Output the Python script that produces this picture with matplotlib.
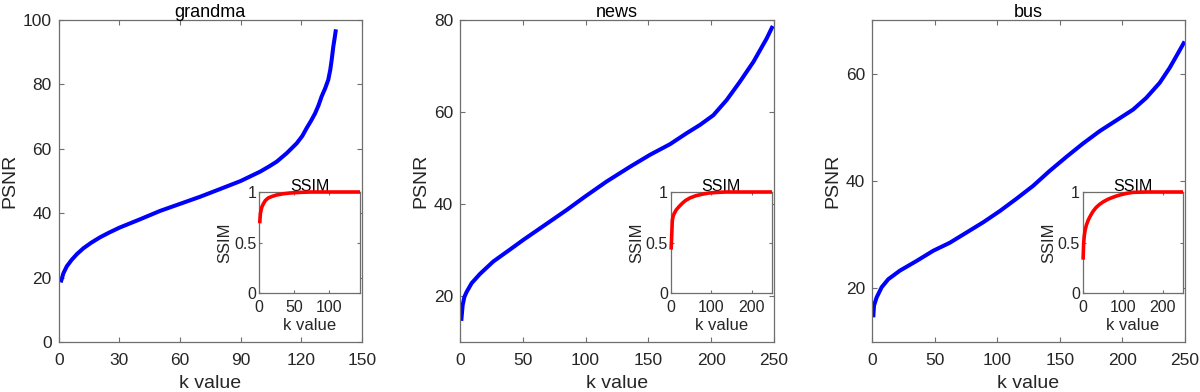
import matplotlib
matplotlib.use("Agg")
import matplotlib.pyplot as plt

plt.rcParams['font.family'] = ['Liberation Sans', 'DejaVu Sans']

# ---------------- data ----------------
titles = ["grandma", "news", "bus"]

grandma_k = [1, 2.3, 4, 6.4, 9, 12.2, 16, 20.4, 25, 30, 40.2, 50.1, 60, 69.9, 79.8, 90,
             99.6, 104, 107.8, 112.7, 117.7, 120.5, 122.6, 124.8, 126.8, 128.5, 130, 131.8,
             133.3, 134.3, 135, 135.8, 136.5, 137.1]
grandma_psnr = [18.5, 21.3, 23.5, 25.5, 27.3, 29.1, 30.8, 32.5, 34.0, 35.5, 38.1, 40.7, 42.9,
                45.1, 47.5, 50.0, 52.9, 54.5, 56.0, 58.6, 61.7, 64.0, 66.4, 68.7, 71.0, 73.5,
                76.2, 78.8, 81.4, 84.5, 87.6, 91.7, 94.5, 97.1]

news_k = [1, 2.1, 3.5, 5.3, 9.3, 15.9, 26.5, 39.8, 50.4, 69, 84.9, 99.5, 116.8, 135.4, 151.3,
          167.2, 180.5, 191.1, 201.7, 212.3, 222.9, 233.6, 244.2, 249]
news_psnr = [14.6, 18.0, 19.8, 20.9, 22.8, 24.8, 27.5, 30.1, 32.2, 35.7, 38.7, 41.6, 44.9, 48.1,
             50.7, 53.0, 55.4, 57.2, 59.3, 62.6, 66.6, 70.9, 76.0, 78.7]

bus_k = [1, 1.6, 3.7, 7.7, 13, 22.3, 35.6, 48.9, 62.2, 75.5, 88.8, 102.1, 115.4, 128.7, 142,
         155.3, 168.6, 181.9, 195.2, 208.5, 219.1, 229.8, 237.8, 244.4, 249.7]
bus_psnr = [14.6, 16.8, 18.3, 20.2, 21.7, 23.3, 25.1, 27.0, 28.5, 30.4, 32.3, 34.4, 36.7, 39.1,
            41.9, 44.5, 47.0, 49.3, 51.3, 53.3, 55.5, 58.3, 61.1, 63.8, 66.0]

grandma_ssim_k = [1, 2, 4, 6, 9, 13, 18, 25, 34, 44, 58, 73, 100, 144]
grandma_ssim = [0.69, 0.79, 0.85, 0.88, 0.915, 0.94, 0.955, 0.97, 0.982, 0.99, 0.996, 1.0, 1.0, 1.0]

news_ssim_k = [1, 2.4, 4, 6, 9, 14, 21, 29, 37, 48, 62, 78, 94, 115, 135, 180, 250]
news_ssim = [0.43, 0.56, 0.72, 0.76, 0.79, 0.825, 0.857, 0.89, 0.917, 0.942, 0.963, 0.978,
             0.99, 0.996, 1.0, 1.0, 1.0]

bus_ssim_k = [1, 2.3, 4, 6.2, 9, 14, 20, 25.6, 33, 41, 52, 64, 80, 95, 110, 126, 160, 200, 250]
bus_ssim = [0.33, 0.49, 0.57, 0.625, 0.67, 0.724, 0.77, 0.807, 0.845, 0.874, 0.905, 0.93,
            0.955, 0.973, 0.987, 0.997, 1.0, 1.0, 1.0]

main_xlims = [(0, 150), (0, 250), (0, 250)]
main_ylims = [(0, 100), (10, 80), (10, 70)]
main_xticks = [[0, 30, 60, 90, 120, 150], [0, 50, 100, 150, 200, 250], [0, 50, 100, 150, 200, 250]]
main_yticks = [[0, 20, 40, 60, 80, 100], [20, 40, 60, 80], [20, 40, 60]]
inset_xlims = [(0, 144), (0, 250), (0, 250)]
inset_xticks = [[0, 50, 100], [0, 100, 200], [0, 100, 200]]
inset_yticks = [0, 0.5, 1]
inset_yticklabels = ["0", "0.5", "1"]

psnr_k = [grandma_k, news_k, bus_k]
psnr_v = [grandma_psnr, news_psnr, bus_psnr]
ssim_k = [grandma_ssim_k, news_ssim_k, bus_ssim_k]
ssim_v = [grandma_ssim, news_ssim, bus_ssim]

# ---------------- layout ----------------
W, H = 1200, 392
fig = plt.figure(figsize=(W / 100, H / 100), dpi=100)

main_px = [(58.7, 362), (460, 774), (872, 1185)]
inset_px = [(259, 360), (670.7, 772), (1082.7, 1183)]
main_top, main_bot = 20, 342
ins_top, ins_bot = 192, 293

txt = '#262626'
spine_c = '#6e6e6e'

def style(ax, fs, length, xpad, ypad):
    ax.tick_params(direction='in', top=True, right=True, labelsize=fs,
                   color=spine_c, labelcolor=txt, length=length, width=0.8)
    ax.tick_params(axis='x', pad=xpad)
    ax.tick_params(axis='y', pad=ypad)
    for s in ax.spines.values():
        s.set_color(spine_c)
        s.set_linewidth(0.9)

for i in range(3):
    l, r = main_px[i]
    ax = fig.add_axes([l / W, 1 - main_bot / H, (r - l) / W, (main_bot - main_top) / H])
    ax.plot(psnr_k[i], psnr_v[i], color='#0000ff', lw=2.9, solid_capstyle='butt',
            solid_joinstyle='round')
    ax.set_xlim(*main_xlims[i])
    ax.set_ylim(*main_ylims[i])
    ax.set_xticks(main_xticks[i])
    ax.set_yticks(main_yticks[i])
    style(ax, 12.5, 3.5, 8, 5)
    ax.set_title(titles[i], fontsize=13, color='black', pad=2)
    ax.set_xlabel('k value', fontsize=14, color=txt, labelpad=5)
    ax.set_ylabel('PSNR', fontsize=14, color=txt, labelpad=3)

    l2, r2 = inset_px[i]
    ia = fig.add_axes([l2 / W, 1 - ins_bot / H, (r2 - l2) / W, (ins_bot - ins_top) / H])
    ia.plot(ssim_k[i], ssim_v[i], color='#ff0000', lw=2.6, clip_on=False, zorder=5,
            solid_capstyle='butt')
    ia.set_xlim(*inset_xlims[i])
    ia.set_ylim(0, 1)
    ia.set_xticks(inset_xticks[i])
    ia.set_yticks(inset_yticks)
    ia.set_yticklabels(inset_yticklabels)
    style(ia, 11.5, 2.5, 5, 2)
    ia.set_title('SSIM', fontsize=11.5, color='black', pad=1)
    ia.set_xlabel('k value', fontsize=12, color=txt, labelpad=2)
    ia.set_ylabel('SSIM', fontsize=12, color=txt, labelpad=1)

fig.savefig('out.png', dpi=100)
